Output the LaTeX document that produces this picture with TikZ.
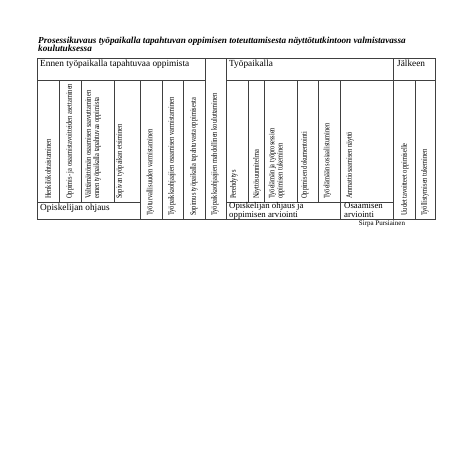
\documentclass[tikz,border=0pt]{standalone}
\usepackage{fontspec}
\setmainfont{Liberation Serif}
\newfontfamily\condfont[FakeStretch=0.78]{Liberation Serif}
\begin{document}
\begin{tikzpicture}[x=1pt,y=-1pt,
  grid/.style={draw=black!75, line width=0.6pt},
  coltext/.style={rotate=90, anchor=west, inner sep=0pt, font=\condfont\fontsize{8.2}{8.4}\selectfont, align=left},
  headtext/.style={anchor=base west, inner sep=0pt, font=\fontsize{9.3}{10}\selectfont},
  foottext/.style={anchor=base west, inner sep=0pt, font=\fontsize{9.3}{9}\selectfont},
  foottwo/.style={anchor=base west, inner sep=0pt, font=\fontsize{8.8}{9}\selectfont},
  titletext/.style={anchor=base west, inner sep=0pt, font=\fontsize{9.2}{9}\selectfont\bfseries\itshape},
]
\useasboundingbox[fill=white] (0,0) rectangle (453,453);

% title
\node[titletext] (title1) at (38,43) {Prosessikuvaus työpaikalla tapahtuvan oppimisen toteuttamisesta näyttötutkintoon valmistavassa};
\node[titletext] (title2) at (38,51.5) {koulutuksessa};

% grid
\draw[grid] (37,58) rectangle (435,219);
\draw[grid] (37,80) -- (205,80);
\draw[grid] (226,80) -- (435,80);
\foreach \x in {205,226,393} \draw[grid] (\x,58) -- (\x,219);
\foreach \x in {140,162,183,340,415} \draw[grid] (\x,80) -- (\x,219);
\foreach \x in {59,81,114,248,264,297,318} \draw[grid] (\x,80) -- (\x,202);
\draw[grid] (37,202) -- (140,202);
\draw[grid] (226,202) -- (393,202);

% header texts
\node[headtext] (h1) at (40,66) {Ennen työpaikalla tapahtuvaa oppimista};
\node[headtext] (h2) at (229,66) {Työpaikalla};
\node[headtext] (h3) at (397,66) {Jälkeen};

% column texts
\node[coltext] (c1) at (48,199) {Henkilökohtaistaminen};
\node[coltext] (c2) at (70,199) {Oppimis- ja osaamistavoitteiden asettaminen};
\node[coltext] (c3) at (93,199) {Välttämättömän osaamisen saavuttaminen\\ennen työpaikalla tapahtuvaa oppimista};
\node[coltext] (c4) at (120,199) {Sopivan työpaikan etsiminen};
\node[coltext] (c5) at (150.5,216) {Työturvallisuuden varmistaminen};
\node[coltext] (c6) at (172,216) {Työpaikkaohjaajien osaamisen varmistaminen};
\node[coltext] (c7) at (194,216) {Sopimus työpaikalla tapahtuvasta oppimisesta};
\node[coltext] (c8) at (215,216) {Työpaikkaohjaajien mahdollinen kouluttaminen};
\node[coltext] (c9) at (234,199) {Perehdytys};
\node[coltext] (c10) at (257,199) {Näyttösuunnitelma};
\node[coltext] (c11) at (276.5,199) {Työelämän ja työprosessien\\oppimisen tukeminen};
\node[coltext] (c12) at (305,199) {Oppimisen dokumentointi};
\node[coltext] (c13) at (327.5,199) {Työelämään sosiaalistuminen};
\node[coltext] (c14) at (350,199) {Ammattiosaamisen näyttö};
\node[coltext] (c15) at (405,216) {Uudet tavoitteet oppimiselle};
\node[coltext] (c16) at (425,216) {Työllistymisen tukeminen};

% footer texts
\node[foottext] (f1) at (40,210) {Opiskelijan ohjaus};
\node[foottwo] (f2a) at (229,208.5) {Opiskelijan ohjaus ja};
\node[foottwo] (f2b) at (229,217.5) {oppimisen arviointi};
\node[foottwo] (f3a) at (344,208.5) {Osaamisen};
\node[foottwo] (f3b) at (344,217.5) {arviointi};

\node[anchor=base, inner sep=0pt, font=\fontsize{7}{8}\selectfont] (author) at (382,225.5) {Sirpa Pursiainen};
\end{tikzpicture}
\end{document}
